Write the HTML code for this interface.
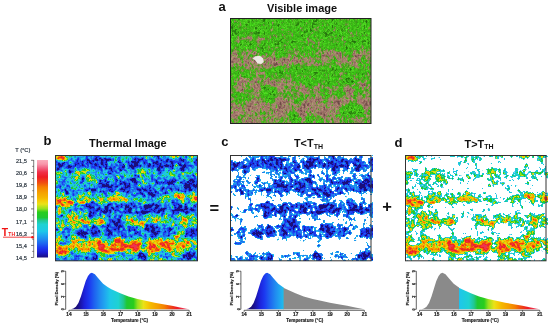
<!DOCTYPE html><html><head><meta charset="utf-8"><title>Thermal threshold figure</title>
<style>html,body{margin:0;padding:0;background:#fff}svg{display:block}text{font-family:'Liberation Sans', sans-serif}</style></head><body>
<svg width="550" height="326" viewBox="0 0 550 326">
<rect width="550" height="326" fill="#fff"/>
<defs>
<filter id="fb" x="0" y="0" width="143" height="106" filterUnits="userSpaceOnUse" color-interpolation-filters="sRGB">
<feTurbulence type="fractalNoise" baseFrequency="0.12 0.085" numOctaves="4" seed="7" result="n"/>
<feColorMatrix in="n" type="matrix" values="1 0 0 0 0  1 0 0 0 0  1 0 0 0 0  0 0 0 0 1" result="ng"/>
<feTurbulence type="fractalNoise" baseFrequency="0.3 0.3" numOctaves="2" seed="21" result="m"/>
<feColorMatrix in="m" type="matrix" values="0 1 0 0 0  0 1 0 0 0  0 1 0 0 0  0 0 0 0 1" result="mg"/>
<feGaussianBlur in="SourceGraphic" stdDeviation="1.3" result="bs"/>
<feComposite in="bs" in2="ng" operator="arithmetic" k1="0" k2="1" k3="0.8" k4="-0.4" result="t1"/>
<feComposite in="t1" in2="mg" operator="arithmetic" k1="0" k2="1" k3="0.8" k4="-0.4" result="t"/>
<feComponentTransfer in="t" result="cc"><feFuncR type="table" tableValues="0.102 0.110 0.110 0.110 0.110 0.110 0.112 0.113 0.115 0.117 0.118 0.120 0.122 0.123 0.125 0.125 0.125 0.125 0.123 0.120 0.118 0.118 0.118 0.118 0.118 0.122 0.125 0.121 0.122 0.135 0.147 0.236 0.465 0.652 0.779 0.912 0.938 0.957 0.959 0.961 0.961 0.961 0.961 0.961 0.961 0.961 0.961 0.961 0.955 0.950 0.945 0.941 0.939 0.938 0.936 0.935 0.934 0.934 0.936 0.937 0.938 0.939 0.940 0.941 0.942"/><feFuncG type="table" tableValues="0.055 0.151 0.169 0.187 0.205 0.226 0.256 0.288 0.324 0.357 0.390 0.426 0.461 0.499 0.537 0.577 0.615 0.656 0.701 0.745 0.786 0.794 0.804 0.814 0.821 0.804 0.785 0.784 0.787 0.793 0.799 0.818 0.860 0.883 0.885 0.886 0.846 0.806 0.766 0.721 0.696 0.673 0.646 0.625 0.593 0.560 0.529 0.503 0.447 0.399 0.348 0.303 0.261 0.219 0.181 0.146 0.115 0.121 0.138 0.151 0.157 0.168 0.179 0.186 0.211"/><feFuncB type="table" tableValues="0.486 0.873 0.891 0.909 0.927 0.941 0.941 0.941 0.941 0.941 0.941 0.941 0.941 0.941 0.941 0.941 0.941 0.941 0.931 0.920 0.907 0.888 0.866 0.845 0.805 0.693 0.567 0.332 0.187 0.161 0.137 0.118 0.118 0.113 0.104 0.095 0.062 0.031 0.016 0.000 0.000 0.000 0.000 0.000 0.000 0.000 0.000 0.000 0.018 0.034 0.051 0.067 0.083 0.099 0.114 0.127 0.139 0.161 0.192 0.214 0.227 0.245 0.266 0.278 0.309"/></feComponentTransfer><feGaussianBlur in="cc" stdDeviation="0.5"/>
</filter>
<filter id="fc" x="0" y="0" width="143" height="106" filterUnits="userSpaceOnUse" color-interpolation-filters="sRGB">
<feTurbulence type="fractalNoise" baseFrequency="0.12 0.085" numOctaves="4" seed="7" result="n"/>
<feColorMatrix in="n" type="matrix" values="1 0 0 0 0  1 0 0 0 0  1 0 0 0 0  0 0 0 0 1" result="ng"/>
<feTurbulence type="fractalNoise" baseFrequency="0.3 0.3" numOctaves="2" seed="21" result="m"/>
<feColorMatrix in="m" type="matrix" values="0 1 0 0 0  0 1 0 0 0  0 1 0 0 0  0 0 0 0 1" result="mg"/>
<feGaussianBlur in="SourceGraphic" stdDeviation="1.3" result="bs"/>
<feComposite in="bs" in2="ng" operator="arithmetic" k1="0" k2="1" k3="0.8" k4="-0.4" result="t1"/>
<feComposite in="t1" in2="mg" operator="arithmetic" k1="0" k2="1" k3="0.8" k4="-0.4" result="t"/>
<feComponentTransfer in="t" result="cc"><feFuncR type="table" tableValues="0.102 0.110 0.110 0.110 0.110 0.110 0.112 0.113 0.115 0.117 0.118 0.120 0.122 0.123 0.125 0.125 0.125 0.125 0.123 0.120 1.000 1.000 1.000 1.000 1.000 1.000 1.000 1.000 1.000 1.000 1.000 1.000 1.000 1.000 1.000 1.000 1.000 1.000 1.000 1.000 1.000 1.000 1.000 1.000 1.000 1.000 1.000 1.000 1.000 1.000 1.000 1.000 1.000 1.000 1.000 1.000 1.000 1.000 1.000 1.000 1.000 1.000 1.000 1.000 1.000"/><feFuncG type="table" tableValues="0.055 0.151 0.169 0.187 0.205 0.226 0.256 0.288 0.324 0.357 0.390 0.426 0.461 0.499 0.537 0.577 0.615 0.656 0.701 0.745 1.000 1.000 1.000 1.000 1.000 1.000 1.000 1.000 1.000 1.000 1.000 1.000 1.000 1.000 1.000 1.000 1.000 1.000 1.000 1.000 1.000 1.000 1.000 1.000 1.000 1.000 1.000 1.000 1.000 1.000 1.000 1.000 1.000 1.000 1.000 1.000 1.000 1.000 1.000 1.000 1.000 1.000 1.000 1.000 1.000"/><feFuncB type="table" tableValues="0.486 0.873 0.891 0.909 0.927 0.941 0.941 0.941 0.941 0.941 0.941 0.941 0.941 0.941 0.941 0.941 0.941 0.941 0.931 0.920 1.000 1.000 1.000 1.000 1.000 1.000 1.000 1.000 1.000 1.000 1.000 1.000 1.000 1.000 1.000 1.000 1.000 1.000 1.000 1.000 1.000 1.000 1.000 1.000 1.000 1.000 1.000 1.000 1.000 1.000 1.000 1.000 1.000 1.000 1.000 1.000 1.000 1.000 1.000 1.000 1.000 1.000 1.000 1.000 1.000"/></feComponentTransfer><feGaussianBlur in="cc" stdDeviation="0.5"/>
</filter>
<filter id="fd" x="0" y="0" width="143" height="106" filterUnits="userSpaceOnUse" color-interpolation-filters="sRGB">
<feTurbulence type="fractalNoise" baseFrequency="0.12 0.085" numOctaves="4" seed="7" result="n"/>
<feColorMatrix in="n" type="matrix" values="1 0 0 0 0  1 0 0 0 0  1 0 0 0 0  0 0 0 0 1" result="ng"/>
<feTurbulence type="fractalNoise" baseFrequency="0.3 0.3" numOctaves="2" seed="21" result="m"/>
<feColorMatrix in="m" type="matrix" values="0 1 0 0 0  0 1 0 0 0  0 1 0 0 0  0 0 0 0 1" result="mg"/>
<feGaussianBlur in="SourceGraphic" stdDeviation="1.3" result="bs"/>
<feComposite in="bs" in2="ng" operator="arithmetic" k1="0" k2="1" k3="0.8" k4="-0.4" result="t1"/>
<feComposite in="t1" in2="mg" operator="arithmetic" k1="0" k2="1" k3="0.8" k4="-0.4" result="t"/>
<feComponentTransfer in="t" result="cc"><feFuncR type="table" tableValues="1.000 1.000 1.000 1.000 1.000 1.000 1.000 1.000 1.000 1.000 1.000 1.000 1.000 1.000 1.000 1.000 1.000 1.000 1.000 0.120 0.118 0.118 0.118 0.118 0.118 0.122 0.125 0.121 0.122 0.135 0.147 0.236 0.465 0.652 0.779 0.912 0.938 0.957 0.959 0.961 0.961 0.961 0.961 0.961 0.961 0.961 0.961 0.961 0.955 0.950 0.945 0.941 0.939 0.938 0.936 0.935 0.934 0.934 0.936 0.937 0.938 0.939 0.940 0.941 0.942"/><feFuncG type="table" tableValues="1.000 1.000 1.000 1.000 1.000 1.000 1.000 1.000 1.000 1.000 1.000 1.000 1.000 1.000 1.000 1.000 1.000 1.000 1.000 0.745 0.786 0.794 0.804 0.814 0.821 0.804 0.785 0.784 0.787 0.793 0.799 0.818 0.860 0.883 0.885 0.886 0.846 0.806 0.766 0.721 0.696 0.673 0.646 0.625 0.593 0.560 0.529 0.503 0.447 0.399 0.348 0.303 0.261 0.219 0.181 0.146 0.115 0.121 0.138 0.151 0.157 0.168 0.179 0.186 0.211"/><feFuncB type="table" tableValues="1.000 1.000 1.000 1.000 1.000 1.000 1.000 1.000 1.000 1.000 1.000 1.000 1.000 1.000 1.000 1.000 1.000 1.000 1.000 0.920 0.907 0.888 0.866 0.845 0.805 0.693 0.567 0.332 0.187 0.161 0.137 0.118 0.118 0.113 0.104 0.095 0.062 0.031 0.016 0.000 0.000 0.000 0.000 0.000 0.000 0.000 0.000 0.000 0.018 0.034 0.051 0.067 0.083 0.099 0.114 0.127 0.139 0.161 0.192 0.214 0.227 0.245 0.266 0.278 0.309"/></feComponentTransfer><feGaussianBlur in="cc" stdDeviation="0.5"/>
</filter>
<linearGradient id="tb" x1="0" y1="0" x2="0" y2="106" gradientUnits="userSpaceOnUse"><stop offset="0.0000" stop-color="#4c4c4c"/><stop offset="0.0189" stop-color="#424242"/><stop offset="0.0425" stop-color="#1a1a1a"/><stop offset="0.1226" stop-color="#1a1a1a"/><stop offset="0.1509" stop-color="#3d3d3d"/><stop offset="0.1887" stop-color="#4c4c4c"/><stop offset="0.2264" stop-color="#3d3d3d"/><stop offset="0.2547" stop-color="#1a1a1a"/><stop offset="0.3396" stop-color="#1f1f1f"/><stop offset="0.3679" stop-color="#474747"/><stop offset="0.4057" stop-color="#666666"/><stop offset="0.4434" stop-color="#4c4c4c"/><stop offset="0.4717" stop-color="#1f1f1f"/><stop offset="0.5377" stop-color="#1f1f1f"/><stop offset="0.5660" stop-color="#474747"/><stop offset="0.6132" stop-color="#616161"/><stop offset="0.6604" stop-color="#474747"/><stop offset="0.6981" stop-color="#262626"/><stop offset="0.7547" stop-color="#2b2b2b"/><stop offset="0.7830" stop-color="#5c5c5c"/><stop offset="0.8208" stop-color="#8a8a8a"/><stop offset="0.8585" stop-color="#9e9e9e"/><stop offset="0.8962" stop-color="#858585"/><stop offset="0.9245" stop-color="#5c5c5c"/><stop offset="0.9528" stop-color="#383838"/><stop offset="0.9811" stop-color="#3d3d3d"/><stop offset="1.0000" stop-color="#525252"/></linearGradient>
<g id="tbase"><rect x="-5" y="-5" width="153" height="116" fill="url(#tb)"/><ellipse cx="6" cy="3.5" rx="7" ry="2.5" fill="#bfbfbf"/><ellipse cx="120" cy="2" rx="4" ry="2" fill="#b2b2b2"/><ellipse cx="30" cy="21" rx="15" ry="7" fill="#666666"/><ellipse cx="124" cy="19" rx="12" ry="3.5" fill="#5c5c5c"/><ellipse cx="58" cy="32" rx="14" ry="4" fill="#0d0d0d"/><ellipse cx="125" cy="28" rx="10" ry="4" fill="#0d0d0d"/><ellipse cx="85" cy="18" rx="12" ry="2.5" fill="#575757"/><ellipse cx="20" cy="30" rx="18" ry="6" fill="#525252"/><ellipse cx="10" cy="47" rx="10" ry="4" fill="#bdbdbd"/><ellipse cx="28" cy="46.5" rx="7" ry="2.5" fill="#999999"/><ellipse cx="58" cy="45" rx="11" ry="3" fill="#949494"/><ellipse cx="82" cy="44" rx="5" ry="2.5" fill="#8f8f8f"/><ellipse cx="105" cy="43.5" rx="4" ry="2" fill="#8a8a8a"/><ellipse cx="124" cy="41" rx="7" ry="3.5" fill="#a3a3a3"/><ellipse cx="140" cy="44" rx="4" ry="2.5" fill="#b2b2b2"/><ellipse cx="95" cy="40" rx="12" ry="3" fill="#2e2e2e"/><ellipse cx="100" cy="53.5" rx="42" ry="4.5" fill="#0d0d0d"/><ellipse cx="18" cy="56" rx="18" ry="6" fill="#5c5c5c"/><ellipse cx="15" cy="68" rx="14" ry="8" fill="#808080"/><ellipse cx="45" cy="67" rx="5" ry="2.5" fill="#a8a8a8"/><ellipse cx="30" cy="66" rx="4" ry="2" fill="#999999"/><ellipse cx="37" cy="59" rx="4" ry="5" fill="#141414"/><ellipse cx="60" cy="72" rx="9" ry="9" fill="#121212"/><ellipse cx="80" cy="68" rx="8" ry="3" fill="#999999"/><ellipse cx="97" cy="76" rx="7" ry="8" fill="#0d0d0d"/><ellipse cx="126" cy="72" rx="16" ry="10" fill="#595959"/><ellipse cx="12" cy="77" rx="12" ry="5" fill="#454545"/><ellipse cx="108" cy="30" rx="26" ry="3.5" fill="#333333"/><ellipse cx="122" cy="82" rx="3" ry="2" fill="#999999"/><ellipse cx="28" cy="79" rx="7" ry="5" fill="#1a1a1a"/><ellipse cx="137" cy="79" rx="6" ry="5" fill="#1a1a1a"/><ellipse cx="110" cy="64" rx="6" ry="3" fill="#737373"/><ellipse cx="7" cy="96" rx="8" ry="4" fill="#c2c2c2"/><ellipse cx="8" cy="88" rx="9" ry="3" fill="#4c4c4c"/><ellipse cx="21" cy="93" rx="5" ry="4" fill="#8f8f8f"/><ellipse cx="35" cy="89.5" rx="9" ry="4" fill="#b8b8b8"/><ellipse cx="49" cy="93" rx="6" ry="4.5" fill="#c7c7c7"/><ellipse cx="63" cy="91" rx="8" ry="6.5" fill="#d6d6d6"/><ellipse cx="80" cy="91" rx="8" ry="4.5" fill="#c9c9c9"/><ellipse cx="91" cy="88" rx="3" ry="4" fill="#6b6b6b"/><ellipse cx="100" cy="93" rx="5.5" ry="4.5" fill="#cccccc"/><ellipse cx="117" cy="90" rx="11" ry="4" fill="#b2b2b2"/><ellipse cx="139" cy="91" rx="6" ry="5" fill="#6b6b6b"/><ellipse cx="36" cy="102" rx="8" ry="3.5" fill="#141414"/><ellipse cx="88" cy="101" rx="7" ry="3.5" fill="#0f0f0f"/><ellipse cx="133" cy="101" rx="7" ry="4" fill="#0f0f0f"/><ellipse cx="107" cy="105" rx="8" ry="1.5" fill="#9e9e9e"/><ellipse cx="60" cy="104" rx="8" ry="2" fill="#666666"/></g>
<filter id="fv" x="0" y="0" width="141" height="106" filterUnits="userSpaceOnUse" color-interpolation-filters="sRGB">
<feTurbulence type="fractalNoise" baseFrequency="0.13 0.10" numOctaves="3" seed="3" result="n"/>
<feColorMatrix in="n" type="matrix" values="1 0 0 0 0  1 0 0 0 0  1 0 0 0 0  0 0 0 0 1" result="ng"/>
<feTurbulence type="fractalNoise" baseFrequency="0.5 0.35" numOctaves="2" seed="11" result="n2"/>
<feColorMatrix in="n2" type="matrix" values="0 1 0 0 0  0 1 0 0 0  0 1 0 0 0  0 0 0 0 1" result="n2g"/>
<feColorMatrix in="n2" type="matrix" values="0 0 1 0 0  0 0 1 0 0  0 0 1 0 0  0 0 0 0 1" result="n3g"/>
<feGaussianBlur in="SourceGraphic" stdDeviation="1.5" result="bs"/>
<feComposite in="bs" in2="ng" operator="arithmetic" k1="0" k2="1" k3="0.9" k4="-0.45" result="t1"/>
<feComposite in="t1" in2="n2g" operator="arithmetic" k1="0" k2="1" k3="0.9" k4="-0.45" result="t"/>
<feComponentTransfer in="t" result="col"><feFuncR type="table" tableValues="0.46 0.56 0.64 0.66 0.56 0.36 0.22 0.22 0.32 0.24 0.16"/><feFuncG type="table" tableValues="0.32 0.40 0.47 0.52 0.56 0.64 0.70 0.75 0.82 0.66 0.50"/><feFuncB type="table" tableValues="0.30 0.36 0.43 0.45 0.34 0.17 0.08 0.08 0.14 0.09 0.06"/></feComponentTransfer>
<feComposite in="col" in2="n3g" operator="arithmetic" k1="0.5" k2="0.75" k3="0" k4="0" result="vv"/><feGaussianBlur in="vv" stdDeviation="0.45"/>
</filter>
<linearGradient id="vb" x1="0" y1="0" x2="0" y2="106" gradientUnits="userSpaceOnUse"><stop offset="0.0000" stop-color="#bdbdbd"/><stop offset="0.0755" stop-color="#bdbdbd"/><stop offset="0.1038" stop-color="#a8a8a8"/><stop offset="0.1321" stop-color="#b8b8b8"/><stop offset="0.1792" stop-color="#a3a3a3"/><stop offset="0.2170" stop-color="#b8b8b8"/><stop offset="0.2830" stop-color="#adadad"/><stop offset="0.3113" stop-color="#949494"/><stop offset="0.3585" stop-color="#707070"/><stop offset="0.4151" stop-color="#666666"/><stop offset="0.4528" stop-color="#858585"/><stop offset="0.5000" stop-color="#adadad"/><stop offset="0.5377" stop-color="#a8a8a8"/><stop offset="0.5755" stop-color="#7a7a7a"/><stop offset="0.6226" stop-color="#5c5c5c"/><stop offset="0.6698" stop-color="#707070"/><stop offset="0.7264" stop-color="#808080"/><stop offset="0.7736" stop-color="#696969"/><stop offset="0.8302" stop-color="#474747"/><stop offset="0.8962" stop-color="#4c4c4c"/><stop offset="0.9528" stop-color="#6b6b6b"/><stop offset="1.0000" stop-color="#757575"/></linearGradient>
<linearGradient id="cb" x1="0" y1="257.5" x2="0" y2="160" gradientUnits="userSpaceOnUse"><stop offset="0.000" stop-color="rgb(26,14,124)"/><stop offset="0.025" stop-color="rgb(26,20,168)"/><stop offset="0.056" stop-color="rgb(28,32,216)"/><stop offset="0.097" stop-color="rgb(28,56,240)"/><stop offset="0.138" stop-color="rgb(30,96,240)"/><stop offset="0.190" stop-color="rgb(32,140,240)"/><stop offset="0.229" stop-color="rgb(32,168,240)"/><stop offset="0.270" stop-color="rgb(30,200,232)"/><stop offset="0.340" stop-color="rgb(30,210,210)"/><stop offset="0.381" stop-color="rgb(32,200,144)"/><stop offset="0.410" stop-color="rgb(30,200,50)"/><stop offset="0.465" stop-color="rgb(40,205,30)"/><stop offset="0.500" stop-color="rgb(150,225,30)"/><stop offset="0.548" stop-color="rgb(234,226,24)"/><stop offset="0.580" stop-color="rgb(244,206,8)"/><stop offset="0.611" stop-color="rgb(245,184,0)"/><stop offset="0.667" stop-color="rgb(245,160,0)"/><stop offset="0.722" stop-color="rgb(245,128,0)"/><stop offset="0.764" stop-color="rgb(240,80,16)"/><stop offset="0.826" stop-color="rgb(238,28,36)"/><stop offset="0.875" stop-color="rgb(240,48,72)"/><stop offset="0.916" stop-color="rgb(242,96,128)"/><stop offset="0.958" stop-color="rgb(248,150,170)"/><stop offset="1.000" stop-color="rgb(250,172,188)"/></linearGradient>
</defs>
<g transform="translate(230,18)"><g filter="url(#fv)"><rect x="-5" y="-5" width="151" height="116" fill="url(#vb)"/><ellipse cx="20" cy="21" rx="20" ry="2.5" fill="#666666"/><ellipse cx="15" cy="35" rx="15" ry="3" fill="#616161"/><ellipse cx="25" cy="45" rx="30" ry="5" fill="#4c4c4c"/><ellipse cx="112" cy="37" rx="28" ry="3.5" fill="#5c5c5c"/><ellipse cx="95" cy="53" rx="45" ry="4" fill="#b8b8b8"/><ellipse cx="30" cy="66" rx="30" ry="5" fill="#474747"/><ellipse cx="38" cy="75" rx="8" ry="9" fill="#b8b8b8"/><ellipse cx="12" cy="82" rx="8" ry="7" fill="#b2b2b2"/><ellipse cx="25" cy="93" rx="28" ry="5" fill="#404040"/><ellipse cx="63" cy="100" rx="8" ry="6" fill="#b2b2b2"/><ellipse cx="100" cy="62" rx="35" ry="6" fill="#adadad"/><ellipse cx="92" cy="86" rx="22" ry="6" fill="#474747"/><ellipse cx="122" cy="92" rx="12" ry="8" fill="#bfbfbf"/><ellipse cx="80" cy="101" rx="6" ry="4" fill="#b2b2b2"/><ellipse cx="135" cy="80" rx="8" ry="6" fill="#595959"/></g><path d="M22.5 40.5l3-2.3 4.5-.4 3.2 2.6.6 3.6-2.6 2-3.8-.6-2.2-3.2z" fill="#ece8e4"/><rect x="0.5" y="0.5" width="140.5" height="105" fill="none" stroke="#222" stroke-width="1"/></g>
<g transform="translate(55,155)"><g filter="url(#fb)"><use href="#tbase"/></g><rect x="0.5" y="0.5" width="142" height="105.3" fill="none" stroke="#333" stroke-width="1"/></g>
<g transform="translate(230,155)"><g filter="url(#fc)"><use href="#tbase"/></g><rect x="0.5" y="0.5" width="140.5" height="105.3" fill="none" stroke="#333" stroke-width="1"/></g>
<g transform="translate(405,155)"><g filter="url(#fd)"><use href="#tbase"/></g><rect x="0.5" y="0.5" width="140.5" height="105.3" fill="none" stroke="#333" stroke-width="1"/></g>
<text x="218.6" y="11.4" font-size="13" font-weight="bold" fill="#111">a</text>
<text x="267" y="12.3" font-size="11" font-weight="bold" fill="#111">Visible image</text>
<text x="43.6" y="145.2" font-size="13" font-weight="bold" fill="#111">b</text>
<text x="89" y="147" font-size="11" font-weight="bold" fill="#111">Thermal Image</text>
<text x="221.3" y="146.2" font-size="13" font-weight="bold" fill="#111">c</text>
<text x="294" y="147.2" font-size="10.8" font-weight="bold" fill="#111">T&lt;T<tspan font-size="7" dy="1.7" dx="0.2">TH</tspan></text>
<text x="394.4" y="146.6" font-size="13" font-weight="bold" fill="#111">d</text>
<text x="464.6" y="147.5" font-size="10.8" font-weight="bold" fill="#111">T&gt;T<tspan font-size="7" dy="1.7" dx="0.2">TH</tspan></text>
<text x="214.3" y="213.5" font-size="16.5" text-anchor="middle" font-weight="bold" fill="#111">=</text>
<text x="387" y="212.3" font-size="16.5" text-anchor="middle" font-weight="bold" fill="#111">+</text>
<rect x="37" y="160" width="11" height="97.5" fill="url(#cb)"/>
<path d="M33.7 160V257.5" stroke="#444" stroke-width="0.7" fill="none"/>
<path d="M31 160.3H33.7" stroke="#444" stroke-width="0.7"/>
<path d="M32.3 166.4H33.7" stroke="#444" stroke-width="0.7"/>
<text x="16" y="162.7" font-size="5.6" fill="#2c3640" stroke="#2c3640" stroke-width="0.2">21,5</text>
<path d="M31 172.5H33.7" stroke="#444" stroke-width="0.7"/>
<path d="M32.3 178.5H33.7" stroke="#444" stroke-width="0.7"/>
<text x="16" y="174.9" font-size="5.6" fill="#2c3640" stroke="#2c3640" stroke-width="0.2">20,6</text>
<path d="M31 184.6H33.7" stroke="#444" stroke-width="0.7"/>
<path d="M32.3 190.7H33.7" stroke="#444" stroke-width="0.7"/>
<text x="16" y="187.0" font-size="5.6" fill="#2c3640" stroke="#2c3640" stroke-width="0.2">19,8</text>
<path d="M31 196.8H33.7" stroke="#444" stroke-width="0.7"/>
<path d="M32.3 202.8H33.7" stroke="#444" stroke-width="0.7"/>
<text x="16" y="199.2" font-size="5.6" fill="#2c3640" stroke="#2c3640" stroke-width="0.2">18,9</text>
<path d="M31 208.9H33.7" stroke="#444" stroke-width="0.7"/>
<path d="M32.3 215.0H33.7" stroke="#444" stroke-width="0.7"/>
<text x="16" y="211.3" font-size="5.6" fill="#2c3640" stroke="#2c3640" stroke-width="0.2">18,0</text>
<path d="M31 221.1H33.7" stroke="#444" stroke-width="0.7"/>
<path d="M32.3 227.1H33.7" stroke="#444" stroke-width="0.7"/>
<text x="16" y="223.5" font-size="5.6" fill="#2c3640" stroke="#2c3640" stroke-width="0.2">17,1</text>
<path d="M31 233.2H33.7" stroke="#444" stroke-width="0.7"/>
<path d="M32.3 239.3H33.7" stroke="#444" stroke-width="0.7"/>
<text x="16" y="235.6" font-size="5.6" fill="#2c3640" stroke="#2c3640" stroke-width="0.2">16,3</text>
<path d="M31 245.4H33.7" stroke="#444" stroke-width="0.7"/>
<path d="M32.3 251.4H33.7" stroke="#444" stroke-width="0.7"/>
<text x="16" y="247.8" font-size="5.6" fill="#2c3640" stroke="#2c3640" stroke-width="0.2">15,4</text>
<path d="M31 257.5H33.7" stroke="#444" stroke-width="0.7"/>
<text x="16" y="259.9" font-size="5.6" fill="#2c3640" stroke="#2c3640" stroke-width="0.2">14,5</text>
<text x="15.2" y="151.7" font-size="5.7" fill="#2c3640" stroke="#2c3640" stroke-width="0.2">T (°C)</text>
<text x="1.7" y="235.8" font-size="10.4" font-weight="bold" fill="#f01414">T<tspan font-size="5" dx="0.3">TH</tspan></text>
<path d="M3 237.2H32" stroke="#f01414" stroke-width="0.8"/><circle cx="32.5" cy="237.3" r="1.3" fill="#f01414"/>
<linearGradient id="hb" gradientUnits="userSpaceOnUse" x1="77.5" y1="0" x2="197.8" y2="0"><stop offset="0.000" stop-color="rgb(26,14,124)"/><stop offset="0.025" stop-color="rgb(26,20,168)"/><stop offset="0.056" stop-color="rgb(28,32,216)"/><stop offset="0.097" stop-color="rgb(28,56,240)"/><stop offset="0.138" stop-color="rgb(30,96,240)"/><stop offset="0.190" stop-color="rgb(32,140,240)"/><stop offset="0.229" stop-color="rgb(32,168,240)"/><stop offset="0.270" stop-color="rgb(30,200,232)"/><stop offset="0.340" stop-color="rgb(30,210,210)"/><stop offset="0.381" stop-color="rgb(32,200,144)"/><stop offset="0.410" stop-color="rgb(30,200,50)"/><stop offset="0.465" stop-color="rgb(40,205,30)"/><stop offset="0.500" stop-color="rgb(150,225,30)"/><stop offset="0.548" stop-color="rgb(234,226,24)"/><stop offset="0.580" stop-color="rgb(244,206,8)"/><stop offset="0.611" stop-color="rgb(245,184,0)"/><stop offset="0.667" stop-color="rgb(245,160,0)"/><stop offset="0.722" stop-color="rgb(245,128,0)"/><stop offset="0.764" stop-color="rgb(240,80,16)"/><stop offset="0.826" stop-color="rgb(238,28,36)"/><stop offset="0.875" stop-color="rgb(240,48,72)"/><stop offset="0.916" stop-color="rgb(242,96,128)"/><stop offset="0.958" stop-color="rgb(248,150,170)"/><stop offset="1.000" stop-color="rgb(250,172,188)"/></linearGradient><path d="M71.0 309.3 L71.0 309.3 L73.4 308.5 L75.9 306.8 L78.4 302.9 L80.9 296.5 L83.3 288.8 L85.7 281.1 L88.0 276.0 L90.0 273.4 L91.9 272.7 L94.9 274.2 L97.4 277.3 L100.0 280.3 L103.1 283.7 L107.6 287.0 L111.4 289.3 L120.3 293.2 L128.5 296.5 L137.5 299.1 L145.7 300.8 L154.7 302.7 L163.1 304.2 L171.9 305.7 L180.1 307.5 L186.5 308.8 L189.1 309.3 L189.1 309.3 Z" fill="url(#hb)"/><path d="M65.7 271.2V309.3" stroke="#222" stroke-width="0.7" fill="none"/><path d="M64.1 309.3H65.7" stroke="#222" stroke-width="0.7"/><text x="63.1" y="310.5" font-size="3.8" font-weight="bold" text-anchor="middle" fill="#1a1a1a" stroke="#1a1a1a" stroke-width="0.15" transform="rotate(-90 63.1 309.3)">0</text><path d="M64.1 296.6H65.7" stroke="#222" stroke-width="0.7"/><text x="63.1" y="297.8" font-size="3.8" font-weight="bold" text-anchor="middle" fill="#1a1a1a" stroke="#1a1a1a" stroke-width="0.15" transform="rotate(-90 63.1 296.6)">3</text><path d="M64.1 283.9H65.7" stroke="#222" stroke-width="0.7"/><text x="63.1" y="285.1" font-size="3.8" font-weight="bold" text-anchor="middle" fill="#1a1a1a" stroke="#1a1a1a" stroke-width="0.15" transform="rotate(-90 63.1 283.9)">6</text><path d="M64.1 271.2H65.7" stroke="#222" stroke-width="0.7"/><text x="63.1" y="272.4" font-size="3.8" font-weight="bold" text-anchor="middle" fill="#1a1a1a" stroke="#1a1a1a" stroke-width="0.15" transform="rotate(-90 63.1 271.2)">9</text><path d="M68.9 310.3H189.2" stroke="#222" stroke-width="0.7" fill="none"/><path d="M68.9 310.3v1.5" stroke="#222" stroke-width="0.7"/><text x="68.9" y="315.7" font-size="4.7" font-weight="bold" text-anchor="middle" fill="#1a1a1a" stroke="#1a1a1a" stroke-width="0.2">14</text><path d="M86.1 310.3v1.5" stroke="#222" stroke-width="0.7"/><text x="86.1" y="315.7" font-size="4.7" font-weight="bold" text-anchor="middle" fill="#1a1a1a" stroke="#1a1a1a" stroke-width="0.2">15</text><path d="M103.3 310.3v1.5" stroke="#222" stroke-width="0.7"/><text x="103.3" y="315.7" font-size="4.7" font-weight="bold" text-anchor="middle" fill="#1a1a1a" stroke="#1a1a1a" stroke-width="0.2">16</text><path d="M120.5 310.3v1.5" stroke="#222" stroke-width="0.7"/><text x="120.5" y="315.7" font-size="4.7" font-weight="bold" text-anchor="middle" fill="#1a1a1a" stroke="#1a1a1a" stroke-width="0.2">17</text><path d="M137.7 310.3v1.5" stroke="#222" stroke-width="0.7"/><text x="137.7" y="315.7" font-size="4.7" font-weight="bold" text-anchor="middle" fill="#1a1a1a" stroke="#1a1a1a" stroke-width="0.2">18</text><path d="M154.9 310.3v1.5" stroke="#222" stroke-width="0.7"/><text x="154.9" y="315.7" font-size="4.7" font-weight="bold" text-anchor="middle" fill="#1a1a1a" stroke="#1a1a1a" stroke-width="0.2">19</text><path d="M172.0 310.3v1.5" stroke="#222" stroke-width="0.7"/><text x="172.0" y="315.7" font-size="4.7" font-weight="bold" text-anchor="middle" fill="#1a1a1a" stroke="#1a1a1a" stroke-width="0.2">20</text><path d="M189.2 310.3v1.5" stroke="#222" stroke-width="0.7"/><text x="189.2" y="315.7" font-size="4.7" font-weight="bold" text-anchor="middle" fill="#1a1a1a" stroke="#1a1a1a" stroke-width="0.2">21</text><text x="129.6" y="321.6" font-size="4.6" font-weight="bold" text-anchor="middle" fill="#1a1a1a" stroke="#1a1a1a" stroke-width="0.15">Temperature (°C)</text><text x="58.1" y="288.6" font-size="4.2" font-weight="bold" text-anchor="middle" fill="#1a1a1a" stroke="#1a1a1a" stroke-width="0.15" transform="rotate(-90 58.1 288.6)">Pixel Density (%)</text>
<linearGradient id="hc" gradientUnits="userSpaceOnUse" x1="252.7" y1="0" x2="373.0" y2="0"><stop offset="0.000" stop-color="rgb(26,14,124)"/><stop offset="0.025" stop-color="rgb(26,20,168)"/><stop offset="0.056" stop-color="rgb(28,32,216)"/><stop offset="0.097" stop-color="rgb(28,56,240)"/><stop offset="0.138" stop-color="rgb(30,96,240)"/><stop offset="0.190" stop-color="rgb(32,140,240)"/><stop offset="0.229" stop-color="rgb(32,168,240)"/><stop offset="0.270" stop-color="rgb(30,200,232)"/><stop offset="0.340" stop-color="rgb(30,210,210)"/><stop offset="0.381" stop-color="rgb(32,200,144)"/><stop offset="0.410" stop-color="rgb(30,200,50)"/><stop offset="0.465" stop-color="rgb(40,205,30)"/><stop offset="0.500" stop-color="rgb(150,225,30)"/><stop offset="0.548" stop-color="rgb(234,226,24)"/><stop offset="0.580" stop-color="rgb(244,206,8)"/><stop offset="0.611" stop-color="rgb(245,184,0)"/><stop offset="0.667" stop-color="rgb(245,160,0)"/><stop offset="0.722" stop-color="rgb(245,128,0)"/><stop offset="0.764" stop-color="rgb(240,80,16)"/><stop offset="0.826" stop-color="rgb(238,28,36)"/><stop offset="0.875" stop-color="rgb(240,48,72)"/><stop offset="0.916" stop-color="rgb(242,96,128)"/><stop offset="0.958" stop-color="rgb(248,150,170)"/><stop offset="1.000" stop-color="rgb(250,172,188)"/></linearGradient><path d="M282.9 309.3 L282.9 287.6 L286.6 289.3 L295.5 293.2 L303.7 296.5 L312.7 299.1 L320.9 300.8 L329.9 302.7 L338.3 304.2 L347.1 305.7 L355.3 307.5 L361.7 308.8 L364.3 309.3 L364.3 309.3 Z" fill="#8a8a8a"/><path d="M246.2 309.3 L246.2 309.3 L248.6 308.5 L251.1 306.8 L253.6 302.9 L256.1 296.5 L258.5 288.8 L260.9 281.1 L263.2 276.0 L265.2 273.4 L267.1 272.7 L270.1 274.2 L272.6 277.3 L275.2 280.3 L278.3 283.7 L282.8 287.0 L283.6 287.6 L283.6 309.3 Z" fill="url(#hc)"/><path d="M240.9 271.2V309.3" stroke="#222" stroke-width="0.7" fill="none"/><path d="M239.3 309.3H240.9" stroke="#222" stroke-width="0.7"/><text x="238.3" y="310.5" font-size="3.8" font-weight="bold" text-anchor="middle" fill="#1a1a1a" stroke="#1a1a1a" stroke-width="0.15" transform="rotate(-90 238.3 309.3)">0</text><path d="M239.3 296.6H240.9" stroke="#222" stroke-width="0.7"/><text x="238.3" y="297.8" font-size="3.8" font-weight="bold" text-anchor="middle" fill="#1a1a1a" stroke="#1a1a1a" stroke-width="0.15" transform="rotate(-90 238.3 296.6)">3</text><path d="M239.3 283.9H240.9" stroke="#222" stroke-width="0.7"/><text x="238.3" y="285.1" font-size="3.8" font-weight="bold" text-anchor="middle" fill="#1a1a1a" stroke="#1a1a1a" stroke-width="0.15" transform="rotate(-90 238.3 283.9)">6</text><path d="M239.3 271.2H240.9" stroke="#222" stroke-width="0.7"/><text x="238.3" y="272.4" font-size="3.8" font-weight="bold" text-anchor="middle" fill="#1a1a1a" stroke="#1a1a1a" stroke-width="0.15" transform="rotate(-90 238.3 271.2)">9</text><path d="M244.1 310.3H364.4" stroke="#222" stroke-width="0.7" fill="none"/><path d="M244.1 310.3v1.5" stroke="#222" stroke-width="0.7"/><text x="244.1" y="315.7" font-size="4.7" font-weight="bold" text-anchor="middle" fill="#1a1a1a" stroke="#1a1a1a" stroke-width="0.2">14</text><path d="M261.3 310.3v1.5" stroke="#222" stroke-width="0.7"/><text x="261.3" y="315.7" font-size="4.7" font-weight="bold" text-anchor="middle" fill="#1a1a1a" stroke="#1a1a1a" stroke-width="0.2">15</text><path d="M278.5 310.3v1.5" stroke="#222" stroke-width="0.7"/><text x="278.5" y="315.7" font-size="4.7" font-weight="bold" text-anchor="middle" fill="#1a1a1a" stroke="#1a1a1a" stroke-width="0.2">16</text><path d="M295.7 310.3v1.5" stroke="#222" stroke-width="0.7"/><text x="295.7" y="315.7" font-size="4.7" font-weight="bold" text-anchor="middle" fill="#1a1a1a" stroke="#1a1a1a" stroke-width="0.2">17</text><path d="M312.9 310.3v1.5" stroke="#222" stroke-width="0.7"/><text x="312.9" y="315.7" font-size="4.7" font-weight="bold" text-anchor="middle" fill="#1a1a1a" stroke="#1a1a1a" stroke-width="0.2">18</text><path d="M330.1 310.3v1.5" stroke="#222" stroke-width="0.7"/><text x="330.1" y="315.7" font-size="4.7" font-weight="bold" text-anchor="middle" fill="#1a1a1a" stroke="#1a1a1a" stroke-width="0.2">19</text><path d="M347.2 310.3v1.5" stroke="#222" stroke-width="0.7"/><text x="347.2" y="315.7" font-size="4.7" font-weight="bold" text-anchor="middle" fill="#1a1a1a" stroke="#1a1a1a" stroke-width="0.2">20</text><path d="M364.4 310.3v1.5" stroke="#222" stroke-width="0.7"/><text x="364.4" y="315.7" font-size="4.7" font-weight="bold" text-anchor="middle" fill="#1a1a1a" stroke="#1a1a1a" stroke-width="0.2">21</text><text x="304.8" y="321.6" font-size="4.6" font-weight="bold" text-anchor="middle" fill="#1a1a1a" stroke="#1a1a1a" stroke-width="0.15">Temperature (°C)</text><text x="233.3" y="288.6" font-size="4.2" font-weight="bold" text-anchor="middle" fill="#1a1a1a" stroke="#1a1a1a" stroke-width="0.15" transform="rotate(-90 233.3 288.6)">Pixel Density (%)</text>
<linearGradient id="hd" gradientUnits="userSpaceOnUse" x1="428.1" y1="0" x2="548.4" y2="0"><stop offset="0.000" stop-color="rgb(26,14,124)"/><stop offset="0.025" stop-color="rgb(26,20,168)"/><stop offset="0.056" stop-color="rgb(28,32,216)"/><stop offset="0.097" stop-color="rgb(28,56,240)"/><stop offset="0.138" stop-color="rgb(30,96,240)"/><stop offset="0.190" stop-color="rgb(32,140,240)"/><stop offset="0.229" stop-color="rgb(32,168,240)"/><stop offset="0.270" stop-color="rgb(30,200,232)"/><stop offset="0.340" stop-color="rgb(30,210,210)"/><stop offset="0.381" stop-color="rgb(32,200,144)"/><stop offset="0.410" stop-color="rgb(30,200,50)"/><stop offset="0.465" stop-color="rgb(40,205,30)"/><stop offset="0.500" stop-color="rgb(150,225,30)"/><stop offset="0.548" stop-color="rgb(234,226,24)"/><stop offset="0.580" stop-color="rgb(244,206,8)"/><stop offset="0.611" stop-color="rgb(245,184,0)"/><stop offset="0.667" stop-color="rgb(245,160,0)"/><stop offset="0.722" stop-color="rgb(245,128,0)"/><stop offset="0.764" stop-color="rgb(240,80,16)"/><stop offset="0.826" stop-color="rgb(238,28,36)"/><stop offset="0.875" stop-color="rgb(240,48,72)"/><stop offset="0.916" stop-color="rgb(242,96,128)"/><stop offset="0.958" stop-color="rgb(248,150,170)"/><stop offset="1.000" stop-color="rgb(250,172,188)"/></linearGradient><path d="M458.3 309.3 L458.3 287.6 L462.0 289.3 L470.9 293.2 L479.1 296.5 L488.1 299.1 L496.3 300.8 L505.3 302.7 L513.7 304.2 L522.5 305.7 L530.7 307.5 L537.1 308.8 L539.7 309.3 L539.7 309.3 Z" fill="url(#hd)"/><path d="M421.6 309.3 L421.6 309.3 L424.0 308.5 L426.5 306.8 L429.0 302.9 L431.5 296.5 L433.9 288.8 L436.3 281.1 L438.6 276.0 L440.6 273.4 L442.5 272.7 L445.5 274.2 L448.0 277.3 L450.6 280.3 L453.7 283.7 L458.2 287.0 L459.0 287.6 L459.0 309.3 Z" fill="#8a8a8a"/><path d="M416.3 271.2V309.3" stroke="#222" stroke-width="0.7" fill="none"/><path d="M414.7 309.3H416.3" stroke="#222" stroke-width="0.7"/><text x="413.7" y="310.5" font-size="3.8" font-weight="bold" text-anchor="middle" fill="#1a1a1a" stroke="#1a1a1a" stroke-width="0.15" transform="rotate(-90 413.7 309.3)">0</text><path d="M414.7 296.6H416.3" stroke="#222" stroke-width="0.7"/><text x="413.7" y="297.8" font-size="3.8" font-weight="bold" text-anchor="middle" fill="#1a1a1a" stroke="#1a1a1a" stroke-width="0.15" transform="rotate(-90 413.7 296.6)">3</text><path d="M414.7 283.9H416.3" stroke="#222" stroke-width="0.7"/><text x="413.7" y="285.1" font-size="3.8" font-weight="bold" text-anchor="middle" fill="#1a1a1a" stroke="#1a1a1a" stroke-width="0.15" transform="rotate(-90 413.7 283.9)">6</text><path d="M414.7 271.2H416.3" stroke="#222" stroke-width="0.7"/><text x="413.7" y="272.4" font-size="3.8" font-weight="bold" text-anchor="middle" fill="#1a1a1a" stroke="#1a1a1a" stroke-width="0.15" transform="rotate(-90 413.7 271.2)">9</text><path d="M419.5 310.3H539.8" stroke="#222" stroke-width="0.7" fill="none"/><path d="M419.5 310.3v1.5" stroke="#222" stroke-width="0.7"/><text x="419.5" y="315.7" font-size="4.7" font-weight="bold" text-anchor="middle" fill="#1a1a1a" stroke="#1a1a1a" stroke-width="0.2">14</text><path d="M436.7 310.3v1.5" stroke="#222" stroke-width="0.7"/><text x="436.7" y="315.7" font-size="4.7" font-weight="bold" text-anchor="middle" fill="#1a1a1a" stroke="#1a1a1a" stroke-width="0.2">15</text><path d="M453.9 310.3v1.5" stroke="#222" stroke-width="0.7"/><text x="453.9" y="315.7" font-size="4.7" font-weight="bold" text-anchor="middle" fill="#1a1a1a" stroke="#1a1a1a" stroke-width="0.2">16</text><path d="M471.1 310.3v1.5" stroke="#222" stroke-width="0.7"/><text x="471.1" y="315.7" font-size="4.7" font-weight="bold" text-anchor="middle" fill="#1a1a1a" stroke="#1a1a1a" stroke-width="0.2">17</text><path d="M488.3 310.3v1.5" stroke="#222" stroke-width="0.7"/><text x="488.3" y="315.7" font-size="4.7" font-weight="bold" text-anchor="middle" fill="#1a1a1a" stroke="#1a1a1a" stroke-width="0.2">18</text><path d="M505.4 310.3v1.5" stroke="#222" stroke-width="0.7"/><text x="505.4" y="315.7" font-size="4.7" font-weight="bold" text-anchor="middle" fill="#1a1a1a" stroke="#1a1a1a" stroke-width="0.2">19</text><path d="M522.6 310.3v1.5" stroke="#222" stroke-width="0.7"/><text x="522.6" y="315.7" font-size="4.7" font-weight="bold" text-anchor="middle" fill="#1a1a1a" stroke="#1a1a1a" stroke-width="0.2">20</text><path d="M539.8 310.3v1.5" stroke="#222" stroke-width="0.7"/><text x="539.8" y="315.7" font-size="4.7" font-weight="bold" text-anchor="middle" fill="#1a1a1a" stroke="#1a1a1a" stroke-width="0.2">21</text><text x="480.2" y="321.6" font-size="4.6" font-weight="bold" text-anchor="middle" fill="#1a1a1a" stroke="#1a1a1a" stroke-width="0.15">Temperature (°C)</text><text x="408.7" y="288.6" font-size="4.2" font-weight="bold" text-anchor="middle" fill="#1a1a1a" stroke="#1a1a1a" stroke-width="0.15" transform="rotate(-90 408.7 288.6)">Pixel Density (%)</text>
</svg></body></html>
